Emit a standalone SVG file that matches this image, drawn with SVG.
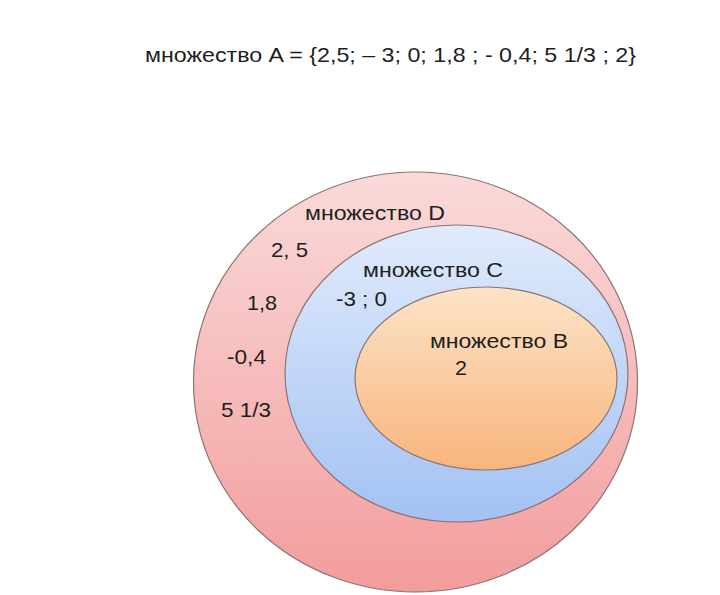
<svg xmlns="http://www.w3.org/2000/svg" width="720" height="595" viewBox="0 0 720 595">
<defs>
<linearGradient id="gD" x1="0" y1="0" x2="0" y2="1">
<stop offset="0" stop-color="#fadada"/>
<stop offset="1" stop-color="#f39c9c"/>
</linearGradient>
<linearGradient id="gC" x1="0" y1="0" x2="0" y2="1">
<stop offset="0" stop-color="#e0ebfb"/>
<stop offset="1" stop-color="#a3c1f3"/>
</linearGradient>
<linearGradient id="gB" x1="0" y1="0" x2="0" y2="1">
<stop offset="0" stop-color="#fce3c8"/>
<stop offset="1" stop-color="#f8b57c"/>
</linearGradient>
</defs>
<style>
text{font-family:"Liberation Sans",Arial,sans-serif;font-size:21px;fill:#1e1e1e}
.sh{stroke:#8c7474;stroke-width:1.2}
</style>
<rect width="720" height="595" fill="#ffffff"/>
<text x="145" y="62" textLength="491" lengthAdjust="spacingAndGlyphs">множество A = {2,5; – 3; 0; 1,8 ; - 0,4; 5 1/3 ; 2}</text>
<g id="D">
<ellipse class="sh" cx="415.5" cy="382" rx="222" ry="210" fill="url(#gD)"/>
<text x="305" y="220" textLength="140" lengthAdjust="spacingAndGlyphs">множество D</text>
<text x="271" y="257" textLength="37" lengthAdjust="spacingAndGlyphs">2, 5</text>
<text x="247" y="310" textLength="30" lengthAdjust="spacingAndGlyphs">1,8</text>
<text x="227" y="364" textLength="39" lengthAdjust="spacingAndGlyphs">-0,4</text>
<text x="221" y="417" textLength="50" lengthAdjust="spacingAndGlyphs">5 1/3</text>
</g>
<g id="C">
<ellipse class="sh" cx="456.5" cy="373.5" rx="171.5" ry="148.5" fill="url(#gC)"/>
<text x="363" y="277" textLength="140" lengthAdjust="spacingAndGlyphs">множество C</text>
<text x="336" y="306" textLength="51" lengthAdjust="spacingAndGlyphs">-3 ; 0</text>
</g>
<g id="B">
<ellipse class="sh" cx="486" cy="378.5" rx="131" ry="91.5" fill="url(#gB)"/>
<text x="430" y="348" textLength="138" lengthAdjust="spacingAndGlyphs">множество B</text>
<text x="455" y="375" textLength="12" lengthAdjust="spacingAndGlyphs">2</text>
</g>
<g id="connectors"/>
</svg>
